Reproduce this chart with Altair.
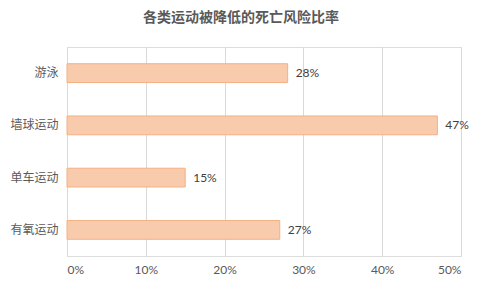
import altair as alt
import pandas as pd

categories = ["游泳", "墙球运动", "单车运动", "有氧运动"]
values = [0.28, 0.47, 0.15, 0.27]
x_ticks = [0, 0.1, 0.2, 0.3, 0.4, 0.5]
title_text = "各类运动被降低的死亡风险比率"

df = pd.DataFrame({"cat": categories, "val": values})
df["lbl"] = [f"{round(v * 100)}%" for v in values]

y_enc = alt.Y("cat:N", sort=categories, title=None,
              scale=alt.Scale(paddingInner=0.64, paddingOuter=0.32),
              axis=alt.Axis(domain=False, ticks=False, labelPadding=9,
                            labelFont="Noto Sans CJK SC", labelFontSize=12,
                            labelColor="#595959"))
x_enc = alt.X("val:Q", title=None,
              scale=alt.Scale(domain=[0, 0.5], nice=False),
              axis=alt.Axis(values=x_ticks, format=".0%", domain=False, ticks=False,
                            grid=True, gridColor="#D9D9D9", gridWidth=1,
                            labelPadding=8, labelFont="Lato", labelFontSize=12,
                            labelColor="#595959"))

bars = alt.Chart(df).mark_bar(color="#F8CBAD", stroke="#F4B183", strokeWidth=1).encode(
    x=x_enc, y=y_enc)

labels = alt.Chart(df).mark_text(align="left", baseline="middle", dx=8,
                                 font="Lato", fontSize=12, color="#404040").encode(
    x=alt.X("val:Q"), y=alt.Y("cat:N", sort=categories), text="lbl:N")

chart = (bars + labels).properties(
    width=394, height=209,
    title=alt.Title(title_text, anchor="middle", dx=-23, offset=22,
                    font="Noto Sans CJK SC", fontSize=14, fontWeight="bold",
                    color="#595959"),
    autosize=alt.AutoSizeParams(type="none"),
    padding={"left": 67, "top": 47, "right": 21, "bottom": 34},
).configure_view(stroke=None).configure(background="white")

chart.save("out.html", embed_options={"renderer": "svg", "actions": False})
